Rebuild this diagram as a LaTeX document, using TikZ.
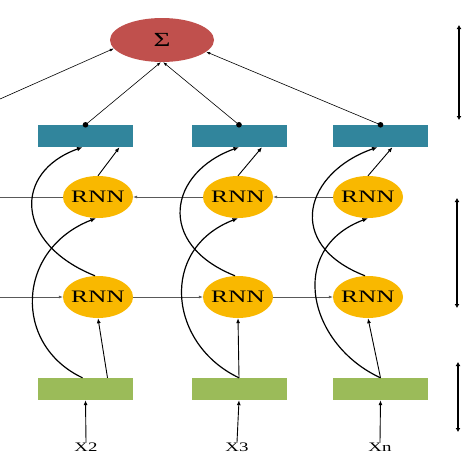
\documentclass[tikz,border=0pt]{standalone}
\usepackage{fontspec}
\setmainfont[FakeStretch=1.45]{Liberation Serif}
\usetikzlibrary{shapes.geometric,arrows.meta}
\definecolor{sumred}{HTML}{C0504D}
\definecolor{outteal}{HTML}{31859C}
\definecolor{rnngold}{HTML}{F9B800}
\definecolor{ingreen}{HTML}{9BBB59}
\tikzset{
  sumnode/.style={ellipse, fill=sumred, minimum width=104pt, minimum height=44pt, inner sep=0pt, font=\fontsize{20}{20}\selectfont},
  rnnnode/.style={ellipse, fill=rnngold, minimum width=70pt, minimum height=42pt, inner ysep=0pt, inner xsep=-8pt, font=\fontsize{17.5}{18}\selectfont},
  outbox/.style={rectangle, fill=outteal, minimum width=95pt, minimum height=22pt, inner sep=0pt},
  inbox/.style={rectangle, fill=ingreen, minimum width=95pt, minimum height=22pt, inner sep=0pt},
  inlabel/.style={font=\fontsize{13}{13}\selectfont, inner sep=1pt},
  link/.style={-{Latex[length=5pt,width=4pt]}, line width=0.9pt},
  curvelink/.style={-{Latex[length=5.5pt,width=4.5pt]}, line width=1.2pt},
  flow/.style={-{Latex[length=4pt,width=3pt]}, line width=0.6pt, gray!70!black},
  tosum/.style={-{Latex[length=4pt,width=3pt]}, line width=0.6pt},
  bar/.style={{Latex[length=4pt,width=5pt]}-{Latex[length=4pt,width=5pt]}, line width=1.8pt}
}
\begin{document}
\begin{tikzpicture}[x=1pt, y=-1pt]
\useasboundingbox (0,0) rectangle (474,474);

% nodes
\node[sumnode] (sum) at (162,40) {Σ};
\node[outbox] (o1) at (85.5,136) {};
\node[outbox] (o2) at (239,136) {};
\node[outbox] (o3) at (380.5,136) {};
\node[rnnnode] (rt1) at (98,197) {RNN};
\node[rnnnode] (rt2) at (238,197) {RNN};
\node[rnnnode] (rt3) at (368,197) {RNN};
\node[rnnnode] (rb1) at (98,297) {RNN};
\node[rnnnode] (rb2) at (238,297) {RNN};
\node[rnnnode] (rb3) at (368,297) {RNN};
\node[inbox] (i1) at (85.5,389) {};
\node[inbox] (i2) at (239,389) {};
\node[inbox] (i3) at (380.5,389) {};
\node[inlabel, anchor=north] (x2) at (86,442) {X2};
\node[inlabel, anchor=north] (x3) at (237,442) {X3};
\node[inlabel, anchor=north] (xn) at (380,442) {Xn};

\coordinate (lsum) at (0,99);
\coordinate (ltop) at (0,197);
\coordinate (lbot) at (0,297);

% outputs to sum
\draw[tosum] (lsum) -- (sum.190);
\draw[tosum] (o1.north) -- (sum.-93);
\draw[tosum] (o2.north) -- (sum.-87);
\draw[tosum] (o3.north) -- (sum.-15);
\foreach \o in {o1,o2,o3}
  \fill (\o.north) circle (2.8pt);

% recurrent links
\draw[flow] (rt3) -- (rt2);
\draw[flow] (rt2) -- (rt1);
\draw[line width=0.6pt, gray!70!black] (rt1) -- (ltop);
\draw[flow] (lbot) -- (rb1);
\draw[flow] (rb1) -- (rb2);
\draw[flow] (rb2) -- (rb3);

% inputs
\draw[link] (x2.north) -- (i1.south);
\draw[link] (x3.north) -- (i2.south);
\draw[link] (xn.north) -- (i3.south);

% column 1
\draw[link] ([xshift=22pt]i1.north) -- (rb1.south);
\draw[curvelink] ([xshift=-3pt]i1.north) .. controls +(-70,-33) and +(-80,31) .. ([xshift=-2pt]rt1.south);
\draw[curvelink] ([xshift=-3pt]rb1.north) .. controls +(-80,-32) and +(-70,25) .. ([xshift=-3pt]o1.south);
\draw[link] (rt1.north) -- ([xshift=34pt]o1.south);

% column 2
\draw[link] (i2.north) -- (rb2.south);
\draw[curvelink] (i2.north) .. controls +(-70,-33) and +(-80,31) .. (rt2.south);
\draw[curvelink] ([xshift=-3pt]rb2.north) .. controls +(-80,-32) and +(-70,25) .. (o2.south);
\draw[link] (rt2.north) -- ([xshift=23pt]o2.south);

% column 3
\draw[link] (i3.north) -- (rb3.south);
\draw[curvelink] (i3.north) .. controls +(-72,-33) and +(-82,31) .. (rt3.south);
\draw[curvelink] ([xshift=-3pt]rb3.north) .. controls +(-82,-32) and +(-72,25) .. ([xshift=-3pt]o3.south);
\draw[link] (rt3.north) -- ([xshift=12pt]o3.south);

% scale bars
\coordinate (b1t) at (459,25);
\coordinate (b1b) at (459,120);
\coordinate (b2t) at (457,198);
\coordinate (b2b) at (457,308);
\coordinate (b3t) at (458,362);
\coordinate (b3b) at (458,432);
\draw[bar] (b1t) -- (b1b);
\draw[bar] (b2t) -- (b2b);
\draw[bar] (b3t) -- (b3b);
\end{tikzpicture}
\end{document}
